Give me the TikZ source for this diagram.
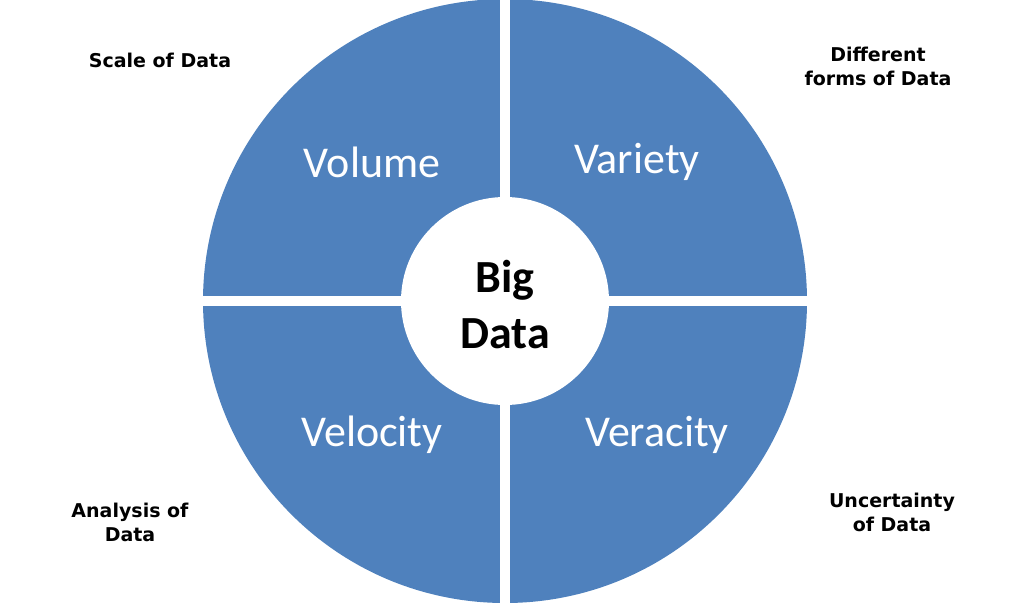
\documentclass[tikz,border=0pt]{standalone}
\usepackage{fontspec}
\setmainfont{Carlito}
\newfontfamily\lab{DejaVu Sans}
\definecolor{qblue}{HTML}{4F81BD}
\begin{document}
\begin{tikzpicture}[x=1pt,y=-1pt,
  quad/.style={text=white,font=\fontsize{44}{50}\selectfont},
  outer/.style={font=\lab\bfseries\fontsize{19}{24}\selectfont,align=center}]
\useasboundingbox (0,0) rectangle (1024,603);
\fill[qblue] (505,301) circle (302);
\draw[white,line width=10pt] (505,-5) -- (505,610);
\draw[white,line width=10pt] (195,301) -- (815,301);
\fill[white] (505,301) circle (104);
\node[font=\bfseries\fontsize{46}{56}\selectfont,align=center] (c) at (505,305) {Big\\Data};
\node[quad] (vol) at (372,162) {Volume};
\node[quad] (var) at (637,162) {Variety};
\node[quad] (vel) at (372,435) {Velocity};
\node[quad] (ver) at (657,435) {Veracity};
\node[outer] (l1) at (160,60) {Scale of Data};
\node[outer] (l2) at (878,66) {Different\\forms of Data};
\node[outer] (l3) at (130,522) {Analysis of\\Data};
\node[outer] (l4) at (892,512) {Uncertainty\\of Data};
\end{tikzpicture}
\end{document}
